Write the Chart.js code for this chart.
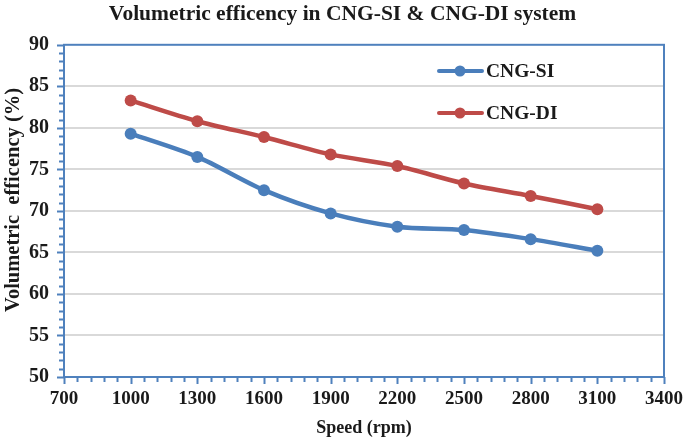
<!DOCTYPE html>
<html>
<head>
<meta charset="utf-8">
<script src="https://cdn.jsdelivr.net/npm/chart.js@4/dist/chart.umd.min.js"></script>
<style>
  html, body { margin: 0; padding: 0; background: #fff; }
  #wrap { width: 685px; height: 443px; }
</style>
</head>
<body>
<div id="wrap"><canvas id="veChart"></canvas></div>
<script>
// data
const speeds = [1000, 1300, 1600, 1900, 2200, 2500, 2800, 3100];
const cngSI = [79.3, 76.5, 72.5, 69.7, 68.1, 67.7, 66.6, 65.2];
const cngDI = [83.3, 80.8, 78.9, 76.8, 75.4, 73.3, 71.8, 70.2];
const seriesNames = ['CNG-SI', 'CNG-DI'];
const seriesColors = ['#4a7ebb', '#be4b48'];
const yTitle = 'Volumetric  efficency (%)';

const axisBlue = '#4f81bd';
const serif = "'Liberation Serif', 'Times New Roman', serif";

// box round the plot, minor ticks, y title and the inside legend
const boxAndTicks = {
    id: 'boxAndTicks',
    afterDraw(chart) {
        const { ctx, chartArea: a, scales } = chart;
        ctx.save();
        ctx.strokeStyle = axisBlue;
        ctx.lineWidth = 2;
        ctx.strokeRect(a.left, a.top, a.right - a.left, a.bottom - a.top);

        // y ticks, every 1 unit, major every 5
        for (let v = 50; v <= 90; v++) {
            const y = Math.round(scales.y.getPixelForValue(v)) + 0.5;
            const len = v % 5 === 0 ? 7 : 5;
            ctx.beginPath();
            ctx.moveTo(a.left - len, y);
            ctx.lineTo(a.left, y);
            ctx.stroke();
        }
        // x ticks, every 60 rpm, major every 300
        for (let v = 700; v <= 3400; v += 60) {
            const x = Math.round(scales.x.getPixelForValue(v)) + 0.5;
            const len = (v - 700) % 300 === 0 ? 7 : 5;
            ctx.beginPath();
            ctx.moveTo(x, a.bottom);
            ctx.lineTo(x, a.bottom + len);
            ctx.stroke();
        }

        // y axis title, sits a bit above the middle in the original
        ctx.save();
        ctx.translate(14, 200);
        ctx.rotate(-Math.PI / 2);
        ctx.fillStyle = '#1a1a1a';
        ctx.font = 'bold 20.5px ' + serif;
        ctx.textAlign = 'center';
        ctx.textBaseline = 'middle';
        ctx.fillText(yTitle, 0, 0);
        ctx.restore();

        // legend
        const rows = [71, 113];
        chart.data.datasets.forEach((ds, i) => {
            const y = rows[i];
            ctx.strokeStyle = ds.borderColor;
            ctx.lineWidth = 4;
            ctx.lineCap = 'round';
            ctx.beginPath();
            ctx.moveTo(439, y);
            ctx.lineTo(482, y);
            ctx.stroke();
            ctx.fillStyle = ds.borderColor;
            ctx.beginPath();
            ctx.arc(460, y, 5.5, 0, Math.PI * 2);
            ctx.fill();
            ctx.fillStyle = '#1a1a1a';
            ctx.font = 'bold 19.5px ' + serif;
            ctx.textBaseline = 'middle';
            ctx.textAlign = 'left';
            ctx.fillText(ds.label, 486, y + 1);
        });
        ctx.restore();
    }
};

const tickFont = { family: serif, size: 19, weight: 'bold' };

const ctx = document.getElementById('veChart').getContext('2d');
new Chart(ctx, {
    type: 'line',
    data: {
        datasets: [
            {
                label: seriesNames[0],
                data: speeds.map((s, i) => ({ x: s, y: cngSI[i] })),
                borderColor: seriesColors[0],
                backgroundColor: seriesColors[0],
                borderWidth: 4.5,
                pointRadius: 6,
                pointBorderWidth: 0,
                pointHoverRadius: 6,
                tension: 0.3
            },
            {
                label: seriesNames[1],
                data: speeds.map((s, i) => ({ x: s, y: cngDI[i] })),
                borderColor: seriesColors[1],
                backgroundColor: seriesColors[1],
                borderWidth: 4.5,
                pointRadius: 6,
                pointBorderWidth: 0,
                pointHoverRadius: 6,
                tension: 0.3
            }
        ]
    },
    options: {
        responsive: true,
        maintainAspectRatio: false,
        animation: false,
        layout: { padding: { left: 0, right: 0, top: 0, bottom: 0 } },
        plugins: {
            legend: { display: false },
            tooltip: { enabled: false },
            title: {
                display: true,
                text: 'Volumetric efficency in CNG-SI & CNG-DI system',
                color: '#1a1a1a',
                font: { family: serif, size: 21.5, weight: 'bold' },
                padding: { top: 2, bottom: 17 }
            }
        },
        scales: {
            x: {
                type: 'linear',
                min: 700,
                max: 3400,
                border: { display: false },
                grid: { display: false, drawTicks: false },
                ticks: {
                    stepSize: 300,
                    padding: 11,
                    color: '#1a1a1a',
                    font: tickFont,
                    callback: (v) => String(v)
                },
                title: {
                    display: true,
                    text: 'Speed (rpm)',
                    color: '#1a1a1a',
                    font: { family: serif, size: 18, weight: 'bold' },
                    padding: { top: 9 }
                },
                afterFit(scale) {
                    scale.height = 66;
                    scale.paddingLeft = 0;
                    scale.paddingRight = 21;
                }
            },
            y: {
                min: 50,
                max: 90,
                border: { display: false },
                grid: {
                    drawTicks: false,
                    color: (c) => (c.tick && (c.tick.value === 50 || c.tick.value === 90)) ? 'rgba(0,0,0,0)' : '#d9d9d9',
                    lineWidth: 2
                },
                ticks: {
                    stepSize: 5,
                    padding: 15,
                    color: '#1a1a1a',
                    font: { family: serif, size: 20, weight: 'bold' },
                    callback: (v) => String(v)
                },
                title: { display: false },
                afterFit(scale) { scale.width = 64; }
            }
        }
    },
    plugins: [boxAndTicks]
});
</script>
</body>
</html>
